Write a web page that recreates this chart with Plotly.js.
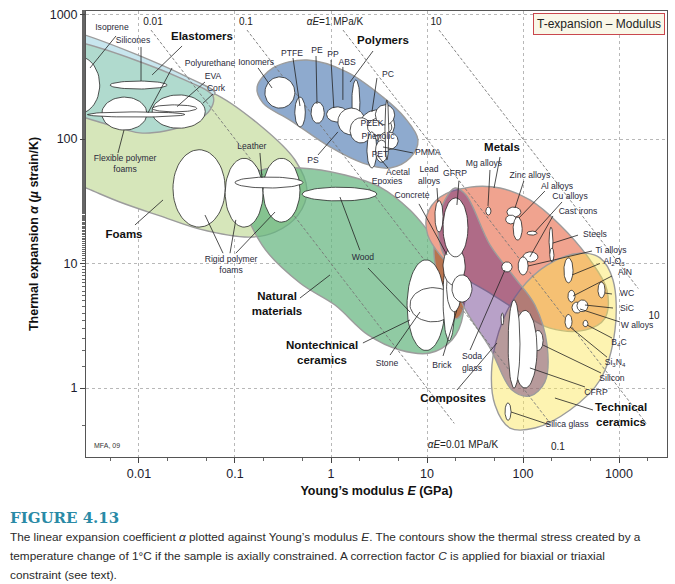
<!DOCTYPE html>
<html><head><meta charset="utf-8">
<script src="https://cdn.plot.ly/plotly-3.0.1.min.js"></script>
<style>html,body{margin:0;padding:0;background:#fff}#chart{width:675px;height:584px}</style>
</head><body><div id="chart"></div>
<script>
// ---------- Envelopes (Young's modulus E in GPa, expansion alpha in microstrain/K) ----------
const foamsE = [0.00093, 0.0039, 0.0166, 0.059, 0.182, 0.422, 0.562, 0.453, 0.261, 0.143, 0.043, 0.0166, 0.0063, 0.0028, 0.00093];
const foamsA = [473, 372, 298, 234, 129, 67.8, 38.9, 24.5, 17.9, 16.3, 18.9, 24.1, 31.2, 40.4, 56.4];
const siliconeBandE = [0.00093, 0.0028, 0.0091, 0.030, 0.062, 0.043, 0.013, 0.0039, 0.00093];
const siliconeBandA = [860, 680, 482, 321, 234, 210, 265, 380, 520];
const elastomersE = [0.00093, 0.0028, 0.0091, 0.0267, 0.059, 0.055, 0.0383, 0.0187, 0.0102, 0.005, 0.0028, 0.00093];
const elastomersA = [684, 579, 431, 309, 221, 171, 137, 116, 112, 129, 147.5, 188];
const polymersE = [0.17, 0.249, 0.562, 1.47, 3.48, 5.9, 8.06, 6.65, 4.12, 2.15, 0.976, 0.374, 0.196];
const polymersA = [262, 372, 431, 345, 217, 147.5, 98.2, 70.3, 58.5, 64.1, 86.3, 142, 194];
const naturalE = [0.127, 0.174, 0.475, 1.40, 3.24, 6.65, 10.7, 16.5, 22.1, 23.7, 18.2, 10.7, 5.23, 2.43, 1.10, 0.475, 0.191];
const naturalA = [32.4, 54.3, 58.5, 51.4, 41.1, 26.9, 17.6, 11.7, 6.72, 3.86, 2.43, 1.91, 2.02, 2.67, 4.64, 6.97, 14.1];
const nontechE = [13.0, 18.2, 23.2, 24.9, 21.0, 15.4, 13.0, 11.8];
const nontechA = [19.3, 15.5, 8.87, 5.09, 3.65, 3.86, 7.37, 12.8];
const metalsE = [10, 13.7, 28.1, 57.6, 118, 243, 499, 750, 715, 442, 191, 93, 45.3, 22.1, 13.7, 10.2];
const metalsA = [24.5, 34.2, 41.1, 40.4, 32.4, 20.4, 10.7, 6.12, 3.65, 2.92, 3.03, 4.08, 5.79, 8.09, 11.7, 16.9];
const techE = [61.9, 93, 178, 393, 634, 866, 908, 634, 309, 133, 73.2, 51.1, 47.5];
const techA = [3.52, 6.12, 9.72, 12.1, 11.1, 7.37, 2.92, 1.16, 0.666, 0.477, 0.477, 0.73, 1.53];
const compositesE = [13.0, 15.4, 19.6, 25.5, 45.3, 82.5, 133, 178, 169, 118, 76.8, 45.3, 23.7, 18.2, 14.3];
const compositesA = [20.4, 32.4, 40.4, 35.5, 14.1, 7.65, 4.64, 2.21, 1.12, 0.862, 0.963, 2.1, 4.64, 8.87, 12.8];

// ---------- Material bubbles: property ranges ----------
const bubbleName = ['Isoprene','Silicones','Flexible polymer foams','Cork','Polyurethane','EVA',
 'Ionomers','PTFE','PE','PP','ABS','PS','Polymer a','PEEK','Polymer b','PC','Phenolic','Epoxies','PET','Acetal',
 'Rigid foam 1','Rigid foam 2','Rigid foam 3','Leather','Wood',
 'Stone','Bone','Brick','Ceramic a','Concrete','Ceramic b','Lead alloys','GFRP',
 'Mg alloys','Zinc alloys','Zinc alloys b','Al alloys','Cu alloys','Cast irons','Cast irons b','Steels','Ti alloys','Soda glass',
 'Al2O3','AlN','SiC','W alloys','WC','Si3N4','B4C','Silicon','CFRP','CFRP b','Glass ceramic','Silica glass'];
const bubbleEmin = [0.0014,0.005,0.0041,0.0137,0.0029,0.0137, 0.205,0.42,0.62,0.9,1.65,1.18,2.0,1.58,2.4,2.9,3.1,2.37,2.9,3.65,
 0.0226,0.079,0.196,0.1,0.5, 6.2,6.65,14.7,16,14.7,18.2,12.1,14.7,
 41,68,66,79,110,100,89,187,190,60, 267,294,324,365,604,274,422,127,79,70,59,65];
const bubbleEmax = [0.0039,0.0196,0.0121,0.049,0.030,0.040, 0.42,0.54,0.85,1.5,2.0,2.26,4.6,2.67,4.3,4.6,5.0,3.0,3.9,4.0,
 0.079,0.196,0.475,0.51,3.0, 15.4,20,19.6,23,25,29.4,14.7,26.7,
 46.4,95,85,98,140,143,113,205,210,77, 332,348,412,475,715,324,475,162,140,93,63,75];
const bubbleAmin = [160,252,118,122,150,165, 177,125,134,137,130,108,98,93,106,130,82,58.5,65,68,
 19.6,19.6,21.5,40.4,31.8, 2.0,3.4,2.4,4.1,6.7,4.9,17.9,11.3,
 24.5,23.6,20.8,15.4,16.9,10.3,8.1,11.7,10.3,8.55, 7.0,4.9,4.0,4.1,5.3,3.0,3.1,2.0,1.0,1.0,3.2,0.55];
const bubbleAmax = [460,292,217,226,165,188, 315,217,198,181,298,177,171,148,147,188,114,114,98,206,
 82,70,70,49.5,41, 10.7,6.4,11.7,10.3,13.6,8.1,32,33.6,
 28.4,28.4,24.5,23.6,18.2,12.4,11.3,19.6,13.3,10.3, 11.1,6.1,4.9,5.1,7.1,3.9,3.5,2.9,4.2,5.1,4.0,0.76];

// ---------- Thermal-stress contours alpha*E (MPa/K) ----------
const guideValue = [0.01, 0.1, 1, 10];
const guideAlphaTop = [750, 750, 750, 750];
const guideAlphaEnd = [0.52, 0.52, 0.52, 6.3];
const guideText = ['0.01','0.1','<i>\u03b1E</i>=1 MPa/K','10','<i>\u03b1E</i>=0.01 MPa/K','0.1','10'];
const guideTextE = [0.014, 0.130, 1.10, 12.4, 23.7, 231, 2316];
const guideTextA = [855, 855, 855, 855, 0.348, 0.336, 3.72];

// ---------- Labels ----------
const smallLabelText = ['Isoprene','Silicones','Polyurethane','EVA','Cork','Flexible polymer<br>foams','Ionomers','PTFE','PE','PP','ABS','PC','PEEK','Phenolic','PET','PMMA','Acetal','Epoxies','PS','Lead<br>alloys','GFRP','Concrete','Leather','Rigid polymer<br>foams','Wood','Stone','Brick','Soda<br>glass','Mg alloys','Zinc alloys','Al alloys','Cu alloys','Cast irons','Steels','Ti alloys','Al<sub>2</sub>O<sub>3</sub>','AlN','WC','SiC','W alloys','B<sub>4</sub>C','Si<sub>3</sub>N<sub>4</sub>','Silicon','CFRP','Silica glass'];
const smallLabelE = [0.00523,0.00866,0.055,0.059,0.0634,0.00715,0.166,0.393,0.715,1.05,1.47,3.92,2.67,3.09,3.24,10.2,4.99,3.83,0.65,10.5,19.6,6.98,0.15,0.0909,2.15,3.83,14.3,29.4,39.2,118,226,309,374,562,826,887,1155,1211,1211,1540,1000,908,845,576,287];
const smallLabelA = [779,612,400,315,252,63,408,482,509,473,408,327,132,104,74.4,77.2,53.3,45.2,66.5,50.5,52.3,34.9,86.3,9.72,11.1,1.56,1.50,1.59,63,50.5,41.1,34.2,25.9,16.9,12.6,10.3,8.39,5.69,4.31,3.15,2.30,1.59,1.18,0.912,0.505];
const classText = ['Elastomers','Polymers','Foams','Natural<br>materials','Nontechnical<br>ceramics','Metals','Composites','Technical<br>ceramics'];
const classE = [0.0453, 3.48, 0.00698, 0.274, 0.806, 60.4, 18.7, 1050];
const classA = [660, 612, 16.9, 4.64, 1.875, 84.7, 0.816, 0.595];

// leader lines: label -> material
const leaderFromE = [0.00576,0.0105,0.0281,0.0221,0.0487,0.059,0.00604,0.174,0.402,0.698,1.0,1.33,2.74,3.01,0.732,7.15,3.92,0.00908,0.182,0.075,0.0887,0.102,2.0,2.43,0.475,2.15,4.12,14.7,8.25,12.7,21.5,28.1,20.5,57.6,45.3,102,169,255,205,374,523,634,845,845,866,1024,845,750,649,442,536,191];
const leaderFromA = [672,548,558,372,287,230,77.2,372,447,464,431,379,509,309,74.4,77.2,58.5,20.4,77.2,12.1,12.1,12.1,12.8,9.2,5.28,2.30,1.84,1.81,30.1,40.4,46.0,2.02,0.963,71.7,56.4,46.0,38.2,31.2,24.1,16.9,12.6,10.0,7.94,5.69,4.39,3.39,2.52,1.77,1.32,1.02,0.666,0.505];
const leaderToE = [0.00309,0.0105,0.0137,0.0124,0.0249,0.0464,0.00698,0.243,0.475,0.715,1.07,1.33,1.58,2.67,1.18,3.48,3.01,0.0178,0.191,0.0487,0.102,0.261,1.24,6.65,0.976,6.65,8.45,20.5,16.2,13.0,20.5,64.9,53.6,49.9,43.2,82.5,90.8,133,118,205,113,324,332,715,442,393,464,309,162,118,215,75];
const leaderToA = [372,292,327,162,182,194,118,257,184,191,177,206,287,165,114,86.3,74.4,32.4,48.6,24.5,22.4,25.9,34.2,4.08,8.09,3.52,4.08,4.23,11.7,31.2,29.5,8.87,2.30,40.4,29.0,27.9,23.2,17.9,11.3,14.6,9.55,8.09,5.48,5.79,4.64,4.31,3.21,3.09,2.21,1.45,0.831,0.642];

const xTicks = [0.01, 0.1, 1, 10, 100, 1000];
const xTickText = ['0.01','0.1','1','10','100','1000'];
const yTicks = [1, 10, 100, 1000];
const yTickText = ['1','10','100','1000'];

// ---------- Build traces ----------
const traces = [];
function envelope(E, A, fill) {
  traces.push({type:'scatter', x:E.concat([E[0]]), y:A.concat([A[0]]), mode:'lines',
    line:{shape:'spline', smoothing:1, color:'#9c9c9c', width:1.4}, fill:'toself', fillcolor:fill,
    hoverinfo:'skip', showlegend:false});
}
envelope(foamsE, foamsA, '#d6e6ba');
envelope(siliconeBandE, siliconeBandA, '#c8e6ee');
envelope(elastomersE, elastomersA, '#b0dace');
envelope(polymersE, polymersA, '#8eaace');
envelope(naturalE, naturalA, 'rgba(101,181,128,0.72)');
envelope(nontechE, nontechA, '#b8744f');
envelope(metalsE, metalsA, '#f0a38f');
envelope(techE, techA, 'rgba(250,228,82,0.45)');
envelope(compositesE, compositesA, 'rgba(86,31,124,0.42)');

// contour lines
guideValue.forEach((v, i) => {
  const k = v * 1000; // alpha(1e-6/K) * E(1e3 MPa)
  traces.push({type:'scatter', mode:'lines',
    x:[k / guideAlphaTop[i], k / guideAlphaEnd[i]], y:[guideAlphaTop[i], guideAlphaEnd[i]],
    line:{color:'#777', width:0.9, dash:'3px,2px'}, hoverinfo:'skip', showlegend:false});
});

// bubbles
bubbleName.forEach((n, i) => {
  const lx0 = Math.log10(bubbleEmin[i]), lx1 = Math.log10(bubbleEmax[i]);
  const ly0 = Math.log10(bubbleAmin[i]), ly1 = Math.log10(bubbleAmax[i]);
  const cx = (lx0 + lx1) / 2, rx = (lx1 - lx0) / 2, cy = (ly0 + ly1) / 2, ry = (ly1 - ly0) / 2;
  const xs = [], ys = [];
  for (let j = 0; j <= 60; j++) {
    const t = 2 * Math.PI * j / 60;
    xs.push(Math.pow(10, cx + rx * Math.cos(t)));
    ys.push(Math.pow(10, cy + ry * Math.sin(t)));
  }
  traces.push({type:'scatter', mode:'lines', x:xs, y:ys, fill:'toself', fillcolor:'#ffffff',
    line:{color:'#1e1e1e', width:0.75}, name:n, hoverinfo:'skip', showlegend:false});
});

// leaders
const lx = [], ly = [];
leaderFromE.forEach((e, i) => { lx.push(e, leaderToE[i], null); ly.push(leaderFromA[i], leaderToA[i], null); });
traces.push({type:'scatter', mode:'lines', x:lx, y:ly, line:{color:'#222', width:0.8},
  hoverinfo:'skip', showlegend:false, connectgaps:false});

// labels
traces.push({type:'scatter', mode:'text', x:smallLabelE, y:smallLabelA, text:smallLabelText,
  textposition:'middle center', cliponaxis:false,
  textfont:{family:'Liberation Sans, Arial, sans-serif', size:8.6, color:'#2a2a3a'},
  hoverinfo:'skip', showlegend:false});
traces.push({type:'scatter', mode:'text', x:classE, y:classA, text:classText.map(t => '<b>' + t + '</b>'),
  textposition:'middle center', cliponaxis:false,
  textfont:{family:'Liberation Sans, Arial, sans-serif', size:11.5, color:'#111'},
  hoverinfo:'skip', showlegend:false});
traces.push({type:'scatter', mode:'text', x:guideTextE, y:guideTextA, text:guideText,
  textposition:'middle center', cliponaxis:false,
  textfont:{family:'Liberation Sans, Arial, sans-serif', size:10, color:'#222'},
  hoverinfo:'skip', showlegend:false});

const captionFont = {family:'Liberation Sans, Arial, sans-serif', size:11.8, color:'#2a2a2a'};
const layout = {
  width:675, height:584,
  margin:{l:86, r:8, t:11, b:127},
  paper_bgcolor:'#fff', plot_bgcolor:'#fff',
  font:{family:'Liberation Sans, Arial, sans-serif', color:'#222'},
  xaxis:{type:'log', range:[-2.552, 3.5], tickvals:xTicks, ticktext:xTickText,
    ticks:'outside', ticklen:5, tickcolor:'#444', showline:true, linecolor:'#555', linewidth:1, mirror:true,
    showgrid:true, gridcolor:'#b8b8b8', griddash:'dot', zeroline:false,
    minor:{ticks:'outside', ticklen:3, tickcolor:'#666', showgrid:false},
    tickfont:{size:12.5, color:'#1c1c2e'},
    title:{text:'<b>Young\u2019s modulus <i>E</i> (GPa)</b>', font:{size:12.5, color:'#111'}, standoff:6}},
  yaxis:{type:'log', range:[-0.554, 3.028], tickvals:yTicks, ticktext:yTickText,
    ticks:'outside', ticklen:5, tickcolor:'#444', showline:true, linecolor:'#555', linewidth:1, mirror:true,
    showgrid:true, gridcolor:'#b8b8b8', griddash:'dot', zeroline:false,
    minor:{ticks:'outside', ticklen:3, tickcolor:'#666', showgrid:false},
    tickfont:{size:12.5, color:'#1c1c2e'},
    title:{text:'<b>Thermal expansion <i>\u03b1</i> (<i>\u00b5</i> strain/K)</b>', font:{size:12.5, color:'#111'}, standoff:8}},
  annotations:[
    {xref:'paper', yref:'paper', x:0.9966, y:0.9955, xanchor:'right', yanchor:'top', showarrow:false,
     text:'T-expansion \u2013 Modulus', font:{size:12, color:'#222'}, bgcolor:'#f9f7e8',
     bordercolor:'#c9474d', borderwidth:1, borderpad:3},
    {xref:'paper', yref:'paper', x:0.0103, y:0.0247, xanchor:'left', yanchor:'middle', showarrow:false,
     text:'MFA, 09', font:{size:7, color:'#333'}},
    {xref:'paper', yref:'paper', x:-0.1343, y:-0.1368, xanchor:'left', yanchor:'middle', showarrow:false,
     text:'<b>FIGURE 4.13</b>', font:{family:'DejaVu Serif, serif', size:15, color:'#2a8aa6'}},
    {xref:'paper', yref:'paper', x:-0.1343, y:-0.1794, xanchor:'left', yanchor:'middle', showarrow:false,
     text:'The linear expansion coefficient <i>\u03b1</i> plotted against Young\u2019s modulus <i>E</i>. The contours show the thermal stress created by a', font:captionFont},
    {xref:'paper', yref:'paper', x:-0.1343, y:-0.2220, xanchor:'left', yanchor:'middle', showarrow:false,
     text:'temperature change of 1\u00b0C if the sample is axially constrained. A correction factor <i>C</i> is applied for biaxial or triaxial', font:captionFont},
    {xref:'paper', yref:'paper', x:-0.1343, y:-0.2646, xanchor:'left', yanchor:'middle', showarrow:false,
     text:'constraint (see text).', font:captionFont}
  ]
};
Plotly.newPlot('chart', traces, layout, {displayModeBar:false, staticPlot:true});
</script>
</body></html>
